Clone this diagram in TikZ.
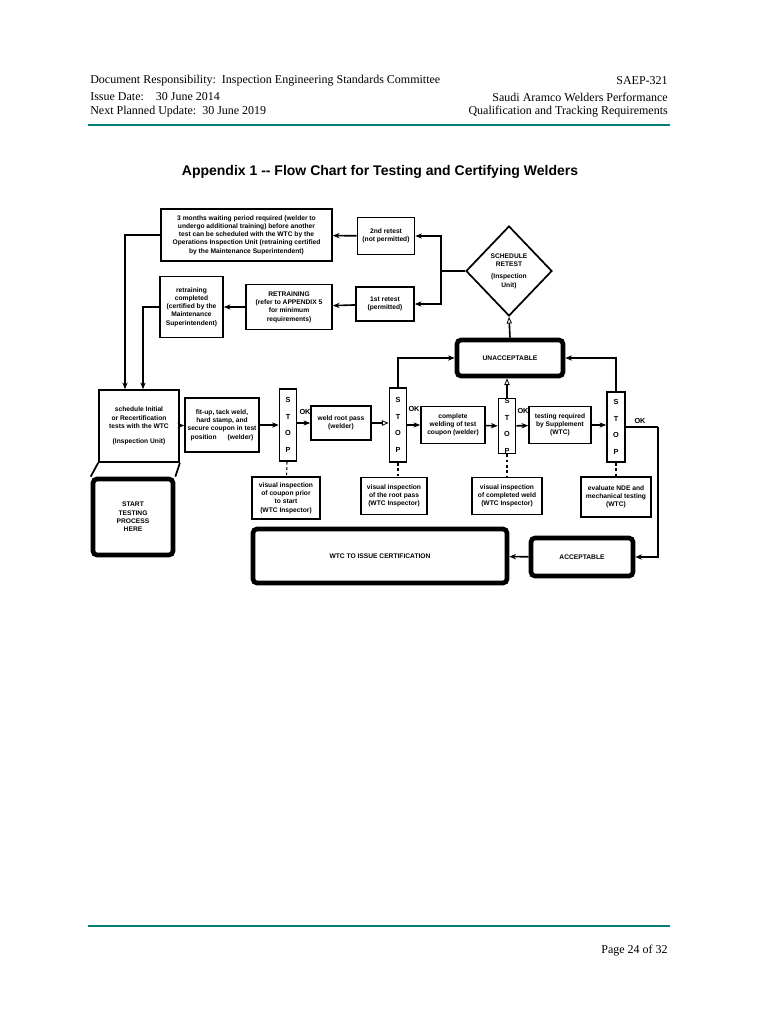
\documentclass[tikz,border=0pt]{standalone}
\usepackage{fontspec}
\setmainfont{Liberation Serif}
\newfontfamily\sans{Liberation Sans}
\usetikzlibrary{shapes.geometric,arrows.meta}
\definecolor{teal}{RGB}{0,128,120}
\begin{document}
\begin{tikzpicture}[x=0.75pt,y=-0.75pt,
  box/.style={draw,line width=1.3pt,align=center,inner sep=1pt,font=\sans\bfseries\fontsize{5}{6.2}\selectfont},
  big/.style={draw,line width=3.5pt,rounded corners=3pt,align=center,inner sep=1pt,font=\sans\bfseries\fontsize{5}{6.2}\selectfont},
  wh/.style 2 args={minimum width=#1*0.75pt,minimum height=#2*0.75pt},
  stp/.style={draw,line width=1.3pt,align=center,inner sep=0pt,font=\sans\bfseries\fontsize{5.5}{12.5}\selectfont},
  ar/.style={line width=1.2pt,-{Stealth[length=5pt,width=4pt]}},
  oar/.style={line width=1.2pt,-{Triangle[open,length=5pt,width=4pt,line width=0.6pt]}},
  ln/.style={line width=1.2pt},
  dsh/.style={line width=0.8pt,dashed,dash pattern=on 2pt off 2pt},
  ok/.style={font=\sans\bfseries\fontsize{5.5}{6}\selectfont,inner sep=1pt}]
\useasboundingbox (0,0) rectangle (768,1024);
\fill[white] (0,0) rectangle (768,1024);
% header
\begin{scope}[every node/.style={font=\fontsize{9}{10}\selectfont,inner sep=0pt}]
\node[anchor=west] (h1) at (90,81) {Document Responsibility:\ \ Inspection Engineering Standards Committee};
\node[anchor=west] (h2) at (90,97) {Issue Date:\ \ \ \ 30 June 2014};
\node[anchor=west] (h3) at (90,112) {Next Planned Update:\ \ 30 June 2019};
\node[anchor=east] (h4) at (668,81) {SAEP-321};
\node[anchor=east] (h5) at (668,97) {Saudi Aramco Welders Performance};
\node[anchor=east] (h6) at (668,112) {Qualification and Tracking Requirements};
\node[anchor=east] (pg) at (668,951) {Page 24 of 32};
\end{scope}
\draw[teal,line width=2pt] (88,125) -- (670,125);
\draw[teal,line width=2pt] (88,926) -- (670,926);
\node[font=\sans\bfseries\fontsize{10.5}{12}\selectfont] (title) at (380,172) {Appendix 1 -- Flow Chart for Testing and Certifying Welders};
% top nodes
\node[box,wh={171}{52}] (wait) at (246.5,235) {3 months waiting period required (welder to\\undergo additional training) before another\\test can be scheduled with the WTC by the\\Operations Inspection Unit (retraining certified\\by the Maintenance Superintendent)};
\node[box,wh={57}{37}] (ret2) at (386,236) {2nd retest\\(not permitted)};
\node[draw,line width=1.3pt,diamond,inner sep=0pt,wh={86}{90},align=center,font=\sans\bfseries\fontsize{5}{6.2}\selectfont] (diam) at (509,271) {SCHEDULE\\RETEST\\[3pt](Inspection\\Unit)};
\node[box,wh={58}{34}] (ret1) at (385,304) {1st retest\\(permitted)};
\node[box,wh={86}{45}] (retr) at (289,307) {RETRAINING\\(refer to APPENDIX 5\\for minimum\\requirements)};
\node[box,wh={63}{61}] (retc) at (191.5,307) {retraining\\completed\\(certified by the\\Maintenance\\Superintendent)};
\node[big,wh={106}{36}] (unacc) at (510,358) {UNACCEPTABLE};
% main row
\node[box,wh={80}{72}] (sched) at (139,426) {schedule Initial\\or Recertification\\tests with the WTC\\[5pt](Inspection Unit)};
\node[big,wh={80}{76}] (start) at (133,517) {START\\TESTING\\PROCESS\\HERE};
\node[box,wh={74}{54}] (fit) at (222,425) {fit-up, tack weld,\\hard stamp, and\\secure coupon in test\\position\ \ \ \ \ \ (welder)};
\node[stp,wh={17}{72}] (s1) at (288,425) {S\\T\\O\\P};
\node[box,wh={60}{34}] (root) at (341,423) {weld root pass\\(welder)};
\node[stp,wh={17}{74}] (s2) at (398,425) {S\\T\\O\\P};
\node[box,wh={64}{37}] (comp) at (453,425) {complete\\welding of test\\coupon (welder)};
\node[stp,wh={17}{53}] (s3) at (507,426) {S\\T\\O\\P};
\node[box,wh={62}{37}] (test) at (560,425) {testing required\\by Supplement\\(WTC)};
\node[stp,wh={18}{70}] (s4) at (616,427) {S\\T\\O\\P};
\node[box,wh={68}{42}] (v1) at (286,498) {visual inspection\\of coupon prior\\to start\\(WTC Inspector)};
\node[box,wh={66}{37}] (v2) at (394,496) {visual inspection\\of the root pass\\(WTC Inspector)};
\node[box,wh={70}{37}] (v3) at (507,496) {visual inspection\\of completed weld\\(WTC Inspector)};
\node[box,wh={70}{40}] (v4) at (616,497) {evaluate NDE and\\mechanical testing\\(WTC)};
\node[big,wh={254}{54}] (cert) at (380,556) {WTC TO ISSUE CERTIFICATION};
\node[big,wh={102}{38}] (acc) at (582,557) {ACCEPTABLE};
% top connectors
\draw[ar] (ret2) -- (wait);
\draw[ar] (ret1) -- (retr);
\draw[ar] (retr) -- (retc);
\coordinate (br) at (441,271);
\draw[ln] (diam.west) -- (br);
\draw[ar] (br) |- (ret2.east);
\draw[ar] (br) |- (ret1.east);
\draw[oar] (unacc.north) -- (diam.south);
\draw[ar] (wait.west) -| ([xshift=-14*0.75pt]sched.north);
\draw[ar] (retc.west) -| ([xshift=4*0.75pt]sched.north);
% trapezoid link
\draw[line width=1.3pt] (sched.south west) -- (start.north west) (sched.south east) -- (start.north east);
% main row connectors
\draw[ar] (sched) -- (fit);
\draw[ar] (fit) -- (s1);
\draw[ar] (s1.east |- root) -- (root);
\draw[oar] (root) -- (s2.west |- root);
\draw[ar] (s2) -- (comp);
\draw[ar] (comp) -- (s3);
\draw[ar] (s3) -- (test);
\draw[ar] (test) -- (s4.west |- test);
\node[ok] (ok1) at (305,412) {OK};
\node[ok] (ok2) at (414,409) {OK};
\node[ok] (ok3) at (523,411) {OK};
\node[ok] (ok4) at (640,421) {OK};
\draw[ar] (s2.north) |- (unacc.west);
\draw[oar] (s3.north) -- (s3.north |- unacc.south);
\draw[ar] (s4.north) |- (unacc.east);
\coordinate (rt) at (658,427);
\draw[ln] (s4.east) -- (rt);
\draw[ar] (rt) |- (acc.east);
\draw[ar] (acc) -- (cert);
\draw[dsh] (s1) -- (v1);
\draw[dsh] (s2) -- (s2 |- v2.north);
\draw[dsh] (s3) -- (v3);
\draw[dsh] (s4) -- (v4);
\end{tikzpicture}
\end{document}
